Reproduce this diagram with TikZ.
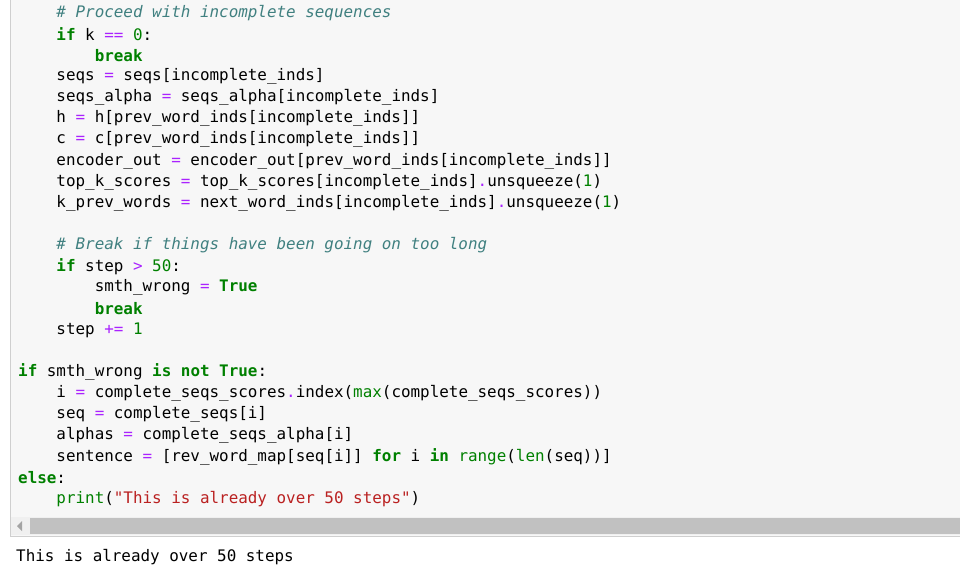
\documentclass[tikz,border=0pt]{standalone}
\usepackage{fontspec}
\newfontfamily\code{DejaVu Sans Mono}
\definecolor{kw}{HTML}{008000}
\definecolor{op}{HTML}{AA22FF}
\definecolor{cm}{HTML}{408080}
\definecolor{st}{HTML}{BA2121}
\definecolor{cellbg}{HTML}{F7F7F7}
\definecolor{cellbd}{HTML}{CFCFCF}
\definecolor{sbtrack}{HTML}{F0F0F0}
\definecolor{sbbar}{HTML}{C1C1C1}
\definecolor{sbarrow}{HTML}{A3A3A3}
\newcommand{\K}[1]{\textcolor{kw}{\bfseries #1}}
\newcommand{\B}[1]{\textcolor{kw}{#1}}
\newcommand{\N}[1]{\textcolor{kw}{#1}}
\newcommand{\Op}[1]{\textcolor{op}{#1}}
\newcommand{\Cm}[1]{\textcolor{cm}{\itshape #1}}
\newcommand{\St}[1]{\textcolor{st}{#1}}
\begin{document}
\begin{tikzpicture}[x=1pt,y=-1pt,
  ln/.style={anchor=west,inner sep=0pt,font=\code\fontsize{15.9}{18}\selectfont}]
\useasboundingbox (0,0) rectangle (960,578);
\fill[white] (0,0) rectangle (960,578);
\filldraw[fill=cellbg,draw=cellbd] (10,-2) rectangle (962,536);
\fill[sbtrack] (11,517) rectangle (960,535);
\fill[sbbar] (30,518) rectangle (960,534);
\fill[sbarrow] (17,526) -- (22,521) -- (22,531) -- cycle;
\def\dy{21.13}
\def\cx{9.57}
\newcommand{\Ln}[3]{\node[ln] (l#1) at ({18+#2*\cx},{13+#1*\dy}) {#3};}
\Ln{0}{4}{\Cm{\# Proceed with incomplete sequences}}
\Ln{1}{4}{\K{if} k \Op{==} \N{0}:}
\Ln{2}{8}{\K{break}}
\Ln{3}{4}{seqs \Op{=} seqs[incomplete\_inds]}
\Ln{4}{4}{seqs\_alpha \Op{=} seqs\_alpha[incomplete\_inds]}
\Ln{5}{4}{h \Op{=} h[prev\_word\_inds[incomplete\_inds]]}
\Ln{6}{4}{c \Op{=} c[prev\_word\_inds[incomplete\_inds]]}
\Ln{7}{4}{encoder\_out \Op{=} encoder\_out[prev\_word\_inds[incomplete\_inds]]}
\Ln{8}{4}{top\_k\_scores \Op{=} top\_k\_scores[incomplete\_inds]\Op{.}unsqueeze(\N{1})}
\Ln{9}{4}{k\_prev\_words \Op{=} next\_word\_inds[incomplete\_inds]\Op{.}unsqueeze(\N{1})}
\Ln{11}{4}{\Cm{\# Break if things have been going on too long}}
\Ln{12}{4}{\K{if} step \Op{>} \N{50}:}
\Ln{13}{8}{smth\_wrong \Op{=} \K{True}}
\Ln{14}{8}{\K{break}}
\Ln{15}{4}{step \Op{+=} \N{1}}
\Ln{17}{0}{\K{if} smth\_wrong \K{is} \K{not} \K{True}:}
\Ln{18}{4}{i \Op{=} complete\_seqs\_scores\Op{.}index(\B{max}(complete\_seqs\_scores))}
\Ln{19}{4}{seq \Op{=} complete\_seqs[i]}
\Ln{20}{4}{alphas \Op{=} complete\_seqs\_alpha[i]}
\Ln{21}{4}{sentence \Op{=} [rev\_word\_map[seq[i]] \K{for} i \K{in} \B{range}(\B{len}(seq))]}
\Ln{22}{0}{\K{else}:}
\Ln{23}{4}{\B{print}(\St{"This is already over 50 steps"})}
\node[ln] (out) at (16,557) {This is already over 50 steps};
\end{tikzpicture}
\end{document}
